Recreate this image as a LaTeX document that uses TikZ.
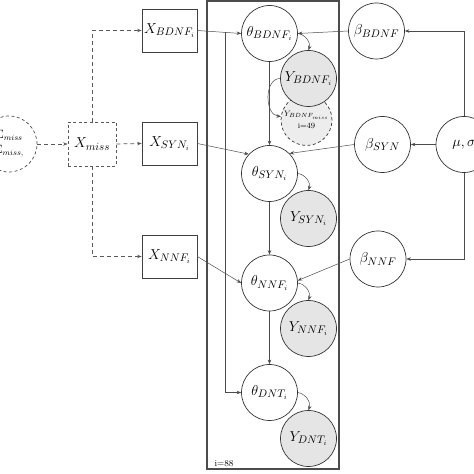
\documentclass[tikz,border=0pt]{standalone}
\usetikzlibrary{arrows.meta,calc}
\begin{document}
\begin{tikzpicture}[x=1pt,y=1pt,
  font=\fontsize{15}{17}\selectfont,
  rv/.style={circle,draw=black!80,line width=0.7pt,minimum size=56pt,inner sep=0pt},
  obs/.style={rv,fill=black!10},
  xbox/.style={rectangle,draw=black!75,line width=0.7pt,minimum width=55pt,minimum height=43pt,inner sep=0pt},
  conn/.style={draw=black!70,line width=0.5pt,-{Stealth[length=4.5pt,width=3.5pt]}},
  dconn/.style={draw=black!65,line width=0.7pt,dash pattern=on 4pt off 3pt,-{Stealth[length=4.5pt,width=3.5pt]}}
]
\useasboundingbox (0,0) rectangle (474,474);
\clip (0,0) rectangle (474,474);

% plate
\node[draw=black!70,line width=1.3pt,minimum width=132pt,minimum height=468pt,inner sep=0pt] (plate) at (273,239) {};
\node[anchor=base west,font=\fontsize{9}{10}\selectfont] (plab) at (211,8) {i=88};

% left side
\node[circle,draw=black!70,line width=0.7pt,dash pattern=on 3pt off 2.5pt,minimum size=56pt,inner sep=0pt,align=center,font=\fontsize{12}{17}\selectfont] (cm) at (9,330) {$\Sigma_{miss}$\\[-2pt]$\Sigma_{miss,}$};
\node[rectangle,draw=black!65,line width=0.7pt,dash pattern=on 3pt off 2.5pt,minimum width=48pt,minimum height=44pt,inner sep=0pt] (xm) at (92,330) {$X_{miss}$};
\node[xbox] (xb) at (169.5,443.5) {$X_{BDNF_i}$};
\node[xbox] (xs) at (169.5,330.5) {$X_{SYN_i}$};
\node[xbox] (xn) at (169.5,217.5) {$X_{NNF_i}$};

% plate content
\node[rv,fill=black!7,dash pattern=on 3pt off 2.5pt,minimum size=51pt,align=center,font=\fontsize{8}{9}\selectfont] (ym) at (306.5,354) {$Y_{BDNF_{miss}}$\\[3pt]{\fontsize{8}{9}\selectfont i=49}};
\node[rv] (tb) at (269.5,440.5) {$\theta_{BDNF_i}$};
\node[obs] (yb) at (308.5,395.5) {$Y_{BDNF_i}$};
\node[rv] (ts) at (269.5,300.5) {$\theta_{SYN_i}$};
\node[obs] (ys) at (308.5,255.5) {$Y_{SYN_i}$};
\node[rv] (tn) at (269.5,191) {$\theta_{NNF_i}$};
\node[obs] (yn) at (308.5,145.5) {$Y_{NNF_i}$};
\node[rv] (td) at (269.5,81.5) {$\theta_{DNT_i}$};
\node[obs] (yd) at (308.5,35.5) {$Y_{DNT_i}$};

% right side
\node[rv] (bb) at (376.5,443) {$\beta_{BDNF}$};
\node[rv] (bs) at (382.5,329.5) {$\beta_{SYN}$};
\node[rv] (bn) at (378,215) {$\beta_{NNF}$};
\node[rv] (ms) at (464,329.5) {$\mu,\sigma$};

% dashed connectors
\draw[dconn] (cm.east) -- (xm.west);
\draw[dconn] (xm.north) |- (xb.west);
\draw[dconn] (xm.east) -- (xs.west);
\draw[dconn] (xm.south) |- (xn.west);

% X -> theta
\draw[conn] (xb.east) -- (tb.west);
\coordinate (br) at ($(xb.east)!0.63!(tb.west)$);
\draw[conn] (br) |- (td.west);
\draw[conn] (xs.east) -- (ts.137);
\draw[conn] (xn.east) -- (tn.west);

% beta -> theta
\draw[conn] (bb.west) -- (tb.east);
\draw[conn] (bs.west) -- (ts.45);
\draw[conn] (bn.west) -- (tn.5);

% mu,sigma -> beta
\draw[conn] (ms.north) |- (bb.east);
\draw[conn] (ms.west) -- (bs.east);
\draw[conn] (ms.south) |- (bn.east);

% theta chain
\draw[conn] (tb.south) -- (ts.north);
\draw[conn] (ts.south) -- (tn.north);
\draw[conn] (tn.south) -- (td.north);

% theta -> Y
\draw[conn] (tb.east) to[bend left=50] (yb.north);
\draw[conn] (ts.east) to[bend left=50] (ys.north);
\draw[conn] (tn.east) to[bend left=50] (yn.north);
\draw[conn] (td.east) to[bend left=50] (yd.north);
\draw[conn] (yb.west) to[out=180,in=175,looseness=1.1] (ym.172);
\end{tikzpicture}
\end{document}
